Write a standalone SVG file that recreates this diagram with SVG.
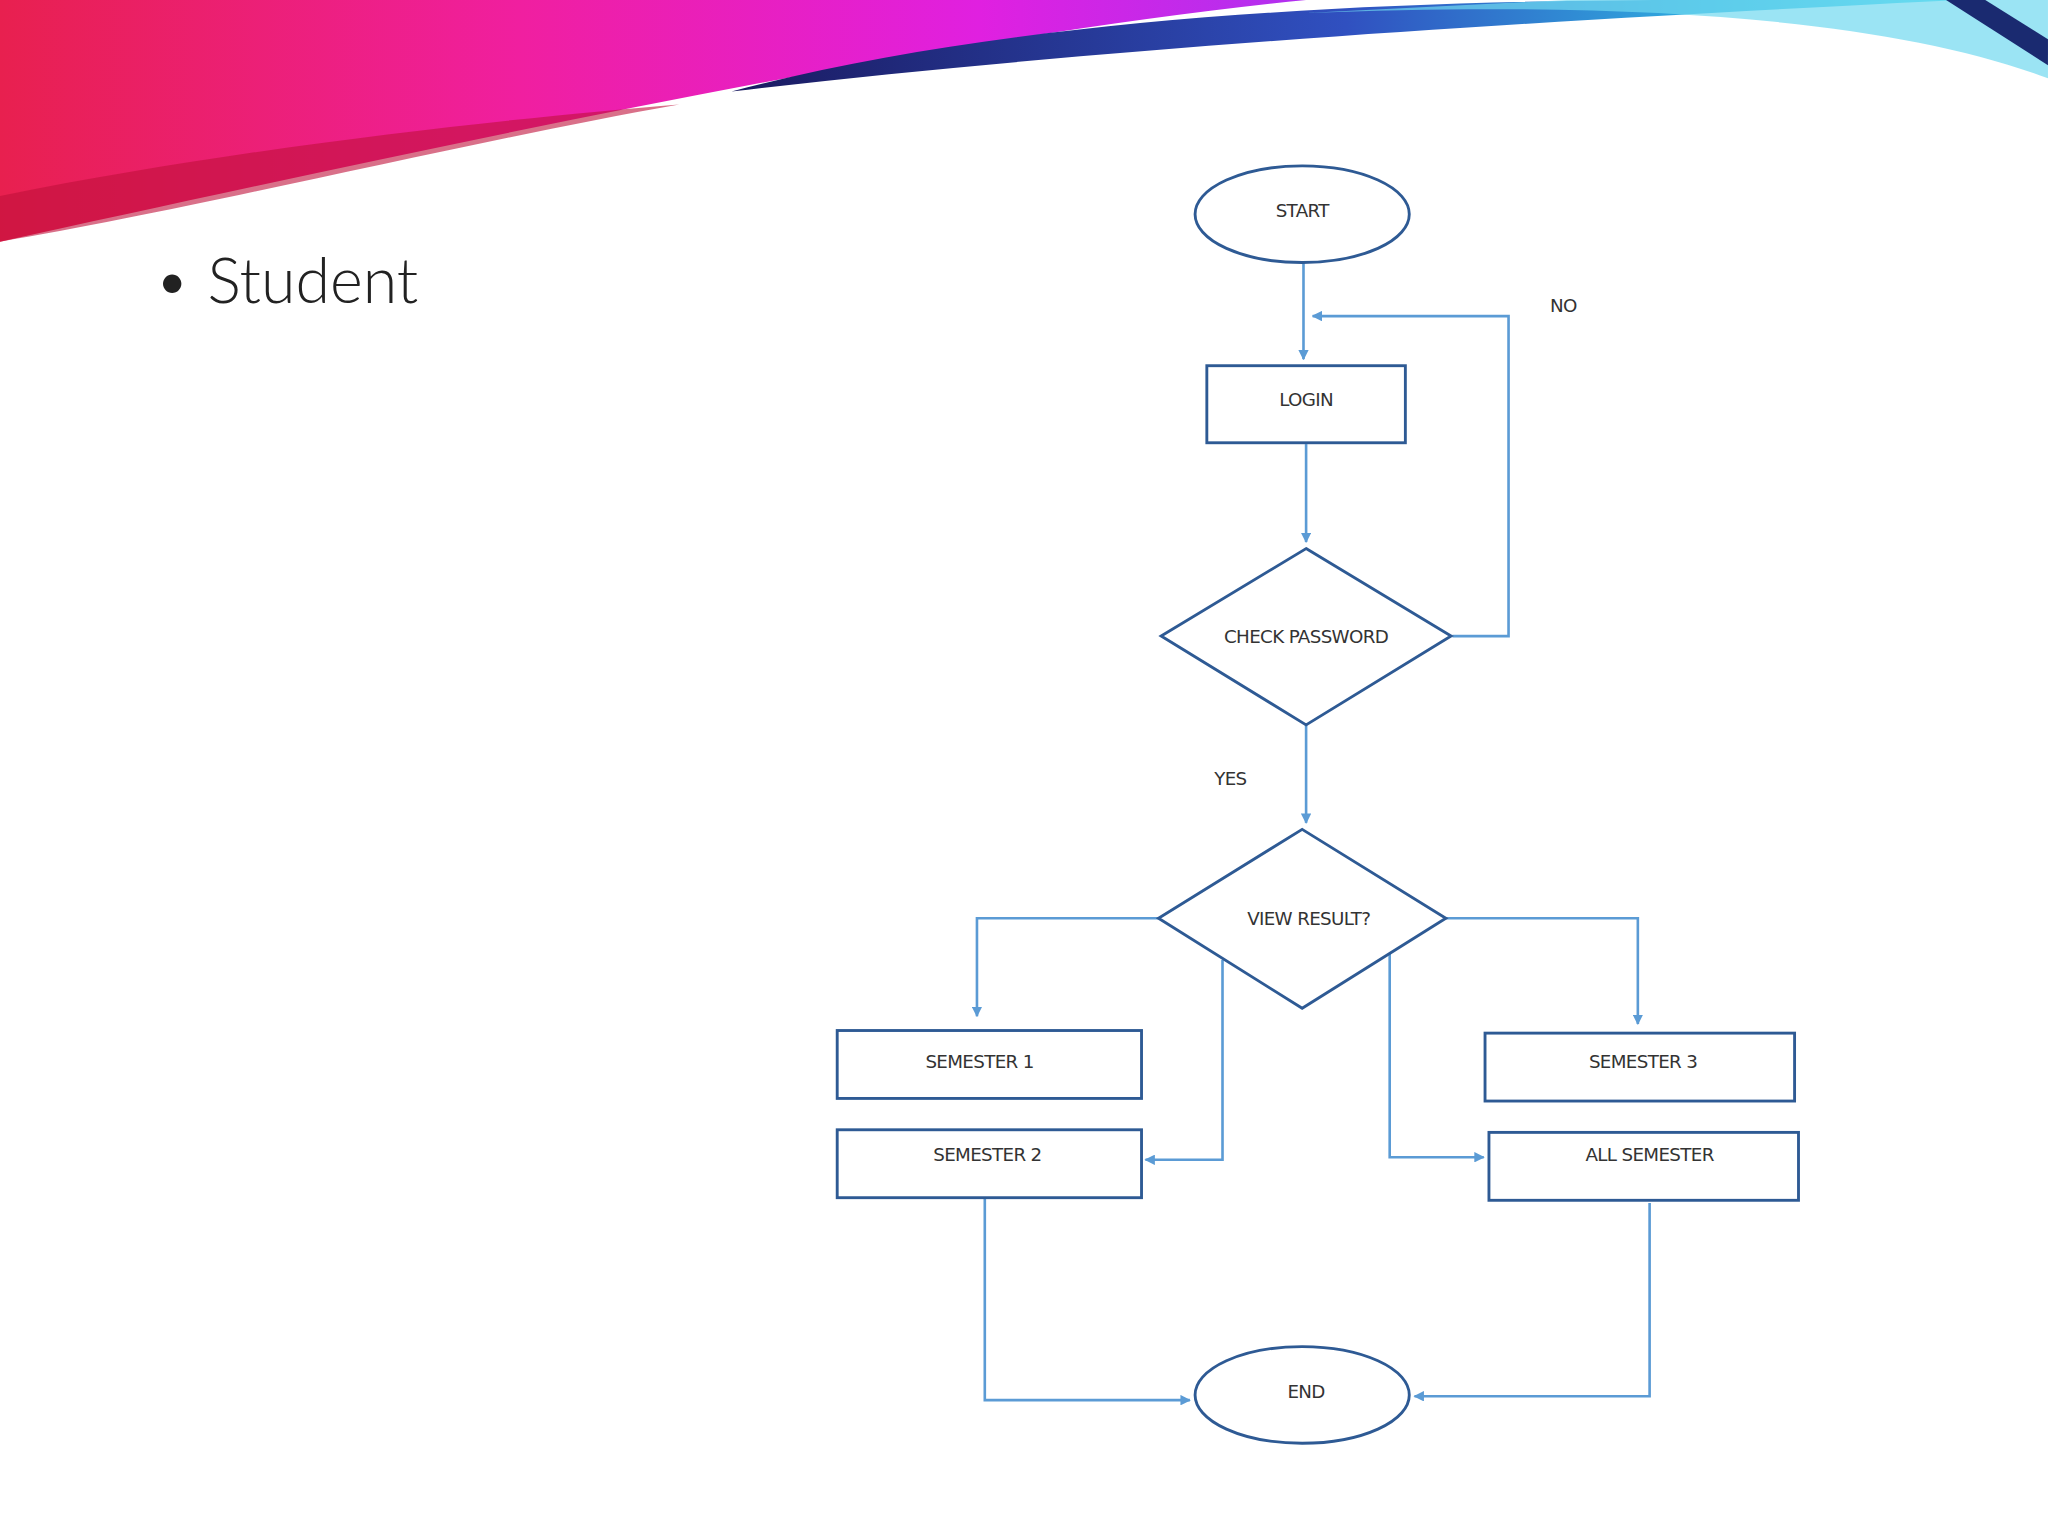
<svg xmlns="http://www.w3.org/2000/svg" width="2048" height="1536" viewBox="0 0 2048 1536">
<defs>
<linearGradient id="pink" x1="0" y1="0" x2="1" y2="0"><stop offset="0" stop-color="#e8204f"/><stop offset="0.4" stop-color="#f01fa0"/><stop offset="0.75" stop-color="#e020e0"/><stop offset="1" stop-color="#b030f0"/></linearGradient>
<linearGradient id="blue" x1="0" y1="0" x2="1" y2="0"><stop offset="0" stop-color="#1a1a60"/><stop offset="0.5" stop-color="#3050c0"/><stop offset="0.8" stop-color="#30b0e0"/><stop offset="1" stop-color="#50e0f0"/></linearGradient>
<marker id="a" viewBox="0 0 10 10" refX="9" refY="5" markerWidth="4" markerHeight="4" orient="auto"><path d="M0,0L10,5L0,10z" fill="#5b9bd5"/></marker>
<style>
.n{fill:#fff;stroke:#2e5a94;stroke-width:2.2}
.c{fill:none;stroke:#5b9bd5;stroke-width:2;marker-end:url(#a)}
.t{font-family:"DejaVu Sans",sans-serif;font-size:14px;fill:#333;text-anchor:middle;letter-spacing:-0.5px}
</style>
</defs>
<rect width="2048" height="1536" fill="#fff"/>
<g transform="scale(1.3061)">
<g id="banner">
<path d="M0,0 L1000,0 C700,30 300,120 0,185 Z" fill="url(#pink)"/>
<path d="M0,150 C200,110 400,90 520,80 C350,110 150,160 0,185 Z" fill="#c0103a" opacity="0.6"/>
<path d="M560,70 C750,20 1000,0 1300,0 L1500,0 C1300,10 900,30 560,70 Z" fill="url(#blue)"/>
<path d="M1000,10 C1250,0 1450,15 1568,60 L1568,0 L1200,0 Z" fill="#70d8f0" opacity="0.7"/>
<path d="M1490,0 L1568,50 L1568,30 L1520,0 Z" fill="#1a2a70"/>
</g>
<text x="118" y="232" font-family="Lato, 'DejaVu Sans', sans-serif" font-size="48" font-weight="300" fill="#222">• Student</text>
<g id="connectors">
<path class="c" d="M998,201V275"/>
<path class="c" d="M1000,340V415"/>
<path class="c" d="M1112,487H1155V242H1005"/>
<path class="c" d="M1000,555V630"/>
<path class="c" d="M887,703H748V778"/>
<path class="c" d="M1107,703H1254V784"/>
<path class="c" d="M936,735V888H877"/>
<path class="c" d="M1064,730V886H1136"/>
<path class="c" d="M754,918V1072H911"/>
<path class="c" d="M1263,921V1069H1083"/>
<text class="t" x="1197" y="239">NO</text>
<text class="t" x="942" y="601">YES</text>
</g>
<g id="start"><ellipse class="n" cx="997" cy="164" rx="82" ry="37"/><text class="t" x="997" y="166">START</text></g>
<g id="login"><rect class="n" x="924" y="280" width="152" height="59"/><text class="t" x="1000" y="311">LOGIN</text></g>
<g id="check"><path class="n" d="M1000,420L1111,487L1000,555L889,487Z"/><text class="t" x="1000" y="492">CHECK PASSWORD</text></g>
<g id="view"><path class="n" d="M997,635L1107,703L997,772L887,703Z"/><text class="t" x="1002" y="708">VIEW RESULT?</text></g>
<g id="sem1"><rect class="n" x="641" y="789" width="233" height="52"/><text class="t" x="750" y="818">SEMESTER 1</text></g>
<g id="sem2"><rect class="n" x="641" y="865" width="233" height="52"/><text class="t" x="756" y="889">SEMESTER 2</text></g>
<g id="sem3"><rect class="n" x="1137" y="791" width="237" height="52"/><text class="t" x="1258" y="818">SEMESTER 3</text></g>
<g id="all"><rect class="n" x="1140" y="867" width="237" height="52"/><text class="t" x="1263" y="889">ALL SEMESTER</text></g>
<g id="end"><ellipse class="n" cx="997" cy="1068" rx="82" ry="37"/><text class="t" x="1000" y="1070">END</text></g>
</g>
</svg>
